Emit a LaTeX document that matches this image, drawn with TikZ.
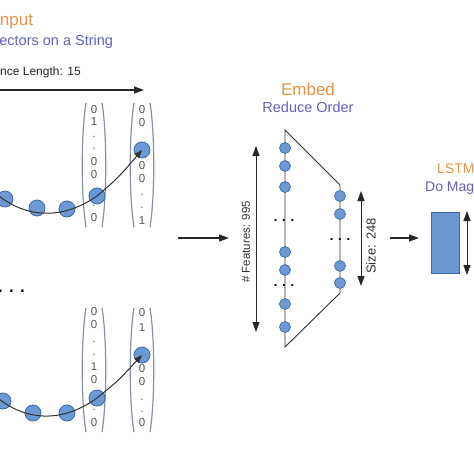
\documentclass[tikz,border=0pt]{standalone}
\usepackage{fontspec}
\setmainfont{Liberation Sans}
\usetikzlibrary{arrows.meta}
\definecolor{orng}{RGB}{232,148,72}
\definecolor{purp}{RGB}{98,98,190}
\definecolor{cfill}{RGB}{108,152,212}
\definecolor{cdraw}{RGB}{66,105,165}
\definecolor{pcol}{RGB}{135,145,165}
\definecolor{dig}{RGB}{85,85,85}
\tikzset{
  bigt/.style={font=\fontsize{17}{17}\selectfont, text=orng, inner sep=0pt},
  midt/.style={font=\fontsize{14}{14}\selectfont, text=orng, inner sep=0pt},
  subt/.style={font=\fontsize{14.5}{14.5}\selectfont, text=purp, inner sep=0pt},
  lblt/.style={font=\fontsize{12}{12}\selectfont, text=black!85, inner sep=0pt},
  dg/.style={font=\fontsize{11.5}{11.5}\selectfont, text=dig, inner sep=0pt},
  dotst/.style={font=\bfseries\fontsize{13}{13}\selectfont, text=black, inner sep=0pt},
  vc/.style={circle, minimum size=16pt, inner sep=0pt, fill=cfill, draw=cdraw, line width=0.8pt},
  ec/.style={circle, minimum size=11pt, inner sep=0pt, fill=cfill, draw=cdraw, line width=0.7pt},
  pstyle/.style={draw=pcol, line width=1.2pt},
  arr/.style={draw=black!85, line width=1.1pt, -{Triangle[length=10pt,width=7pt]}},
  darr/.style={draw=black!85, line width=1pt, {Triangle[length=10pt,width=7pt]}-{Triangle[length=10pt,width=7pt]}},
  curv/.style={draw=black!80, line width=1pt, -{Triangle[length=8pt,width=6pt]}},
  trap/.style={draw=black!80, line width=0.9pt},
  rlbl/.style={font=\fontsize{11.5}{11.5}\selectfont, text=black!80, inner sep=0pt, rotate=90},
  rect/.style={rectangle, minimum width=28pt, minimum height=61pt, inner sep=0pt, fill=cfill, draw=cdraw, line width=0.8pt}
}
\newcommand{\myparens}[4]{%
  \draw[pstyle] ({#1+4},#3) .. controls ({#1-1},{#3+30}) and ({#1-1},{#4-30}) .. ({#1+4},#4);
  \draw[pstyle] ({#2-4},#3) .. controls ({#2+1},{#3+30}) and ({#2+1},{#4-30}) .. ({#2-4},#4);}
\begin{document}
\begin{tikzpicture}[x=1pt,y=-1pt]
\useasboundingbox (0,0) rectangle (474,474);
\fill[white] (0,0) rectangle (474,474);

% Input headings
\node[bigt, anchor=base west] (tin) at (-5,25) {Input};
\node[subt, anchor=base west] (tvec) at (-9.7,45) {Vectors on a String};
\node[lblt, anchor=base west] (tlen) at (-34.7,75) {Sequence Length: 15};
\coordinate (a0) at (-5,90);
\coordinate (a1) at (144,90);
\draw[arr] (a0) -- (a1);

% top vectors
\myparens{82}{106}{103}{227}
\myparens{130}{154}{103}{227}
\foreach \t/\y [count=\i] in {0/110,1/122,./137,./149,0/162,0/175,./206,0/218}
  \node[dg] (ta\i) at (94,\y) {\t};
\foreach \t/\y [count=\i] in {0/110,0/123,0/166,0/179,./195,./208,1/221}
  \node[dg] (tb\i) at (142,\y) {\t};
\node[vc] (tc1) at (5,199) {};
\node[vc] (tc2) at (37,208) {};
\node[vc] (tc3) at (67,209) {};
\node[vc] (tc4) at (97,196) {};
\node[vc] (tc5) at (142,150) {};
\coordinate (ts) at (-10,188);
\draw[curv] (ts) .. controls (20,218) and (60,222) .. (tc4.center) .. controls (118,178) .. (tc5.center);

% ellipsis
\node[font=\bfseries\fontsize{17}{17}\selectfont, inner sep=0pt, anchor=west] (edots) at (-2,291) {. . .};

% bottom vectors
\myparens{82}{106}{308}{432}
\myparens{130}{154}{308}{432}
\foreach \t/\y [count=\i] in {0/312,0/325,./342,./355,1/367,0/380,./410,0/423}
  \node[dg] (ba\i) at (94,\y) {\t};
\foreach \t/\y [count=\i] in {0/313,1/328,0/369,0/382,./400,./412,0/423}
  \node[dg] (bb\i) at (142,\y) {\t};
\node[vc] (bc1) at (3,401) {};
\node[vc] (bc2) at (33,413) {};
\node[vc] (bc3) at (67,413) {};
\node[vc] (bc4) at (97,398) {};
\node[vc] (bc5) at (142,355) {};
\coordinate (bs) at (-10,391);
\draw[curv] (bs) .. controls (20,421) and (60,425) .. (bc4.center) .. controls (118,381) .. (bc5.center);

% arrow to embed
\coordinate (ma) at (178,238);
\coordinate (mb) at (229,238);
\draw[arr] (ma) -- (mb);

% Embed
\node[bigt, anchor=base] (temb) at (308,95) {Embed};
\node[subt, anchor=base] (tred) at (308,112) {Reduce Order};
\draw[trap] (285,130) -- (340,185) -- (340,293) -- (285,347) -- cycle;
\foreach \y [count=\i] in {148,166,187,252,270,304,327}
  \node[ec] (el\i) at (285,\y) {};
\foreach \y [count=\i] in {196,214,266,283}
  \node[ec] (er\i) at (340,\y) {};
\node[dotst] (ed1) at (284,221) {. . .};
\node[dotst] (ed2) at (284,286) {. . .};
\node[dotst] (ed3) at (340,240) {. . .};
\coordinate (fa) at (256,146);
\coordinate (fb) at (256,332);
\draw[darr] (fa) -- (fb);
\node[rlbl] (flab) at (246,242) {\# Features: 995};
\coordinate (sa) at (361,191);
\coordinate (sb) at (361,286);
\draw[darr] (sa) -- (sb);
\node[rlbl, font=\fontsize{13}{13}\selectfont] (slab) at (371,246) {Size: 248};

% arrow to LSTM
\coordinate (la) at (390,238);
\coordinate (lb) at (419,238);
\draw[arr] (la) -- (lb);

% LSTM
\node[midt, anchor=base west] (tlstm) at (437,173) {LSTM};
\node[subt, font=\fontsize{14}{14}\selectfont, anchor=base west] (tmag) at (425,191) {Do Magic};
\node[rect] (lr) at (445,242.5) {};
\coordinate (da) at (467,211);
\coordinate (db) at (467,275);
\draw[darr] (da) -- (db);
\end{tikzpicture}
\end{document}
